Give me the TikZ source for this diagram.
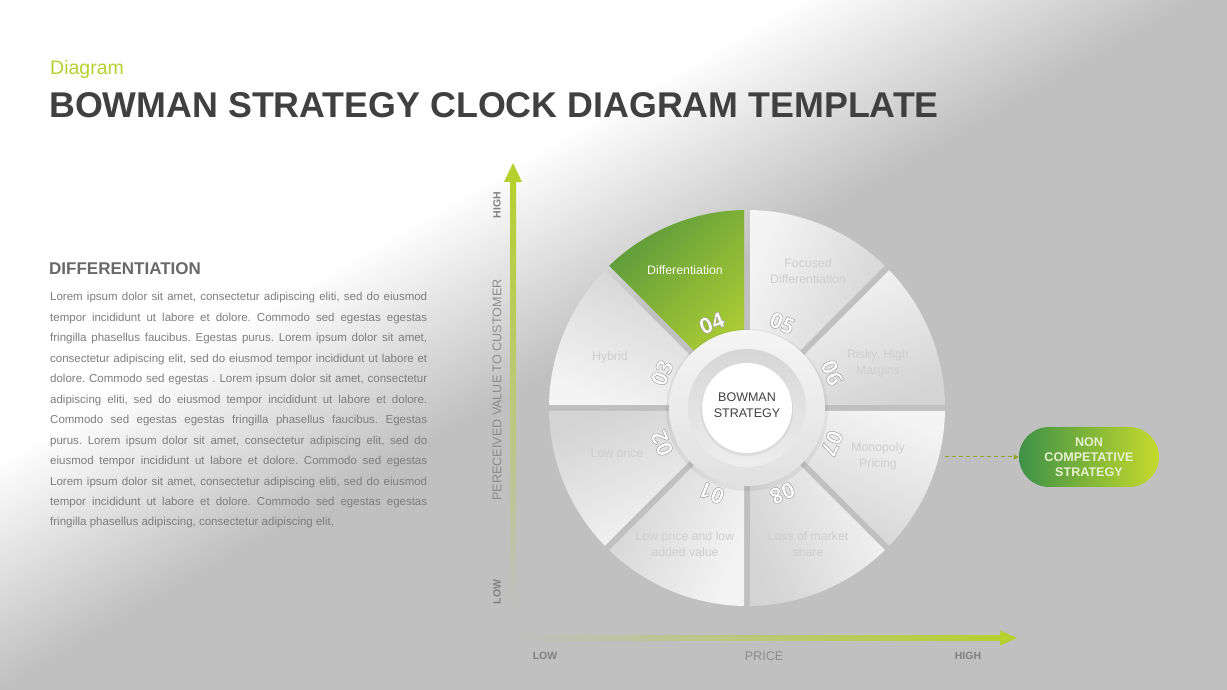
\documentclass[tikz,border=0pt]{standalone}
\usepackage{fontspec}
\setmainfont{Liberation Sans}
\newfontfamily\numfont{Open Sans}
\usetikzlibrary{arrows.meta}
\definecolor{bggrey}{RGB}{192,192,192}
\definecolor{titlegrey}{RGB}{64,64,64}
\definecolor{textgrey}{RGB}{125,125,125}
\definecolor{headgrey}{RGB}{105,105,105}
\definecolor{limegreen}{RGB}{182,208,46}
\definecolor{leafgreen}{RGB}{92,154,60}
\definecolor{leaflime}{RGB}{170,203,52}
\definecolor{pillgreen}{RGB}{62,145,72}
\definecolor{pilllime}{RGB}{198,218,44}
\definecolor{seglight}{RGB}{244,244,244}
\definecolor{segdark}{RGB}{212,212,212}
\definecolor{seglabel}{RGB}{206,206,206}
\def\sector[#1](#2:#3){\shade[#1] (#2+2.87:60) -- (#2+0.87:198) arc[start angle=#2+0.87, end angle=#3-0.87, radius=198pt] -- (#3-2.87:60) -- cycle;}
\newcommand{\justline}[1]{\makebox[377pt][s]{#1}}
% white digits with a thin grey rim
\newcommand{\rimnum}[1]{\special{pdf:literal direct q 2 Tr 0.45 w 0.6 0.6 0.6 RG}#1\special{pdf:literal direct Q}}
\tikzset{
	seglbl/.style={font=\fontsize{12.3}{16}\selectfont, text=seglabel, align=center, inner sep=0},
	clocknum/.style={font=\fontsize{22}{22}\selectfont\numfont\bfseries, text=white, inner sep=0},
	axlbl/.style={font=\fontsize{10.5}{12}\selectfont\bfseries, text=black!50, inner sep=0},
	axname/.style={font=\fontsize{12.6}{14}\selectfont, text=black!45, inner sep=0}
}

\begin{document}
\frenchspacing
\begin{tikzpicture}[x=1pt,y=1pt]
		%%%%% BACKGROUND %%%%%
		\useasboundingbox (0,0) rectangle (1227,690);
		\begin{scope}
			\clip (0,0) rectangle (1227,690);
			\fill[bggrey] (0,0) rectangle (1227,690);
			\begin{scope}[transform canvas={rotate around={30:(500,405)}}]
				\shade[top color=white, bottom color=bggrey] (-700,305) rectangle (1700,505);
				\fill[white] (-700,504) rectangle (1700,1700);
			\end{scope}
		\end{scope}
		
		%%%%% TITLE %%%%%
		\node[anchor=base west, inner sep=0, font=\fontsize{19.5}{22}\selectfont, text=limegreen] (kicker) at (50,615) {Diagram};
		\node[anchor=base west, inner sep=0, font=\fontsize{35.8}{40}\selectfont\bfseries, text=titlegrey] (title) at (49,572) {BOWMAN STRATEGY CLOCK DIAGRAM TEMPLATE};
		
		%%%%% TEXT %%%%%
		\node[anchor=base west, inner sep=0, font=\fontsize{17}{20}\selectfont\bfseries, text=headgrey] (heading) at (49,415) {DIFFERENTIATION};
		\node[anchor=base west, inner sep=0, text=textgrey] (body) at (50,389) {\parbox[t]{377pt}{\fontsize{11.5}{20.45}\selectfont
			\justline{Lorem ipsum dolor sit amet, consectetur adipiscing eliti, sed do eiusmod}\\
			\justline{tempor incididunt ut labore et dolore. Commodo sed egestas egestas}\\
			\justline{fringilla phasellus faucibus. Egestas purus. Lorem ipsum dolor sit amet,}\\
			\justline{consectetur adipiscing elit, sed do eiusmod tempor incididunt ut labore et}\\
			\justline{dolore. Commodo sed egestas . Lorem ipsum dolor sit amet, consectetur}\\
			\justline{adipiscing eliti, sed do eiusmod tempor incididunt ut labore et dolore.}\\
			\justline{Commodo sed egestas egestas fringilla phasellus faucibus. Egestas}\\
			\justline{purus. Lorem ipsum dolor sit amet, consectetur adipiscing elit, sed do}\\
			\justline{eiusmod tempor incididunt ut labore et dolore. Commodo sed egestas}\\
			\justline{Lorem ipsum dolor sit amet, consectetur adipiscing eliti, sed do eiusmod}\\
			\justline{tempor incididunt ut labore et dolore. Commodo sed egestas egestas}\\
			fringilla phasellus adipiscing, consectetur adipiscing elit,}};
		
		%%%%% AXES %%%%%
		\shade[bottom color=bggrey, top color=limegreen] (510,80) rectangle (516,509);
		\fill[limegreen] (504,508) -- (522,508) -- (513,527) -- cycle;
		\node[axlbl, rotate=90] (yhigh) at (497,485) {HIGH};
		\node[axname, rotate=90] (yname) at (497,300) {PERECEIVED VALUE TO CUSTOMER};
		\node[axlbl, rotate=90] (ylow) at (497,98) {LOW};
		
		\shade[left color=bggrey, right color=limegreen] (520,49.5) rectangle (1001,54.5);
		\fill[limegreen] (1000,44.5) -- (1000,59.5) -- (1017,52) -- cycle;
		\node[axlbl] (xlow) at (545,34) {LOW};
		\node[axname] (xname) at (764,34) {PRICE};
		\node[axlbl] (xhigh) at (968,34) {HIGH};
		
		%%%%% CLOCK %%%%%
		\begin{scope}[shift={(747,282)}]
			\sector[top color=seglight, bottom color=segdark, shading angle=22.5](0:45)
			\sector[top color=seglight, bottom color=segdark, shading angle=67.5](45:90)
			\sector[top color=leafgreen, bottom color=leaflime, shading angle=45](90:135)
			\sector[top color=seglight, bottom color=segdark, shading angle=157.5](135:180)
			\sector[top color=seglight, bottom color=segdark, shading angle=202.5](180:225)
			\sector[top color=seglight, bottom color=segdark, shading angle=247.5](225:270)
			\sector[top color=seglight, bottom color=segdark, shading angle=292.5](270:315)
			\sector[top color=seglight, bottom color=segdark, shading angle=337.5](315:360)
			
			\fill[black, opacity=0.05] (0,-2) circle (81);
			\shade[top color=white!96!black, bottom color=white!88!black] (0,0) circle (78);
			\shade[top color=white!84!black, bottom color=white!93!black] (0,0) circle (59);
			\fill[black, opacity=0.06] (0,-2) circle (46);
			\fill[white] (0,0) circle (45);
			\node[inner sep=0, align=center, font=\fontsize{12.5}{16}\selectfont, text=titlegrey] (hubtxt) at (0,3) {BOWMAN\\STRATEGY};
			
			\node[seglbl, text=white!94!limegreen] (lblDiff) at (-62,138) {Differentiation};
			\node[seglbl] (lblFocus) at (61,137) {Focused\\Differentiation};
			\node[seglbl] (lblRisky) at (131,45) {Risky, High\\Margins};
			\node[seglbl] (lblMono) at (131,-48) {Monopoly\\Pricing};
			\node[seglbl] (lblLoss) at (61,-136) {Loss of market\\share};
			\node[seglbl] (lblLowAdd) at (-62,-136) {Low price and low\\added value};
			\node[seglbl] (lblLow) at (-130,-46) {Low price};
			\node[seglbl] (lblHybrid) at (-137,51) {Hybrid};
			
			\node[clocknum, rotate=22.5] (n04) at (112.5:92) {\rimnum{04}};
			\node[clocknum, rotate=-22.5] (n05) at (67.5:92) {\rimnum{05}};
			\node[clocknum, rotate=-67.5] (n06) at (22.5:92) {\rimnum{06}};
			\node[clocknum, rotate=-112.5] (n07) at (-22.5:92) {\rimnum{07}};
			\node[clocknum, rotate=-157.5] (n08) at (-67.5:92) {\rimnum{08}};
			\node[clocknum, rotate=157.5] (n01) at (-112.5:92) {\rimnum{01}};
			\node[clocknum, rotate=112.5] (n02) at (-157.5:92) {\rimnum{02}};
			\node[clocknum, rotate=67.5] (n03) at (157.5:92) {\rimnum{03}};
			
			\coordinate (wheelE) at (198,-49);
		\end{scope}
		
		%%%%% NON COMPETATIVE %%%%%
		\node[rounded corners=30pt, minimum width=140pt, minimum height=60pt, left color=pillgreen, right color=pilllime, align=center, font=\fontsize{12.6}{15}\selectfont\bfseries, text={rgb,255:red,230;green,240;blue,205}] (noncomp) at (1089,233) {NON\\COMPETATIVE\\STRATEGY};
		\draw[line width=1pt, dash pattern=on 4pt off 3pt, color=limegreen!80!black, -{Triangle[length=5pt,width=5pt]}] (wheelE) -- (noncomp.west);
		
	\end{tikzpicture}
\end{document}
